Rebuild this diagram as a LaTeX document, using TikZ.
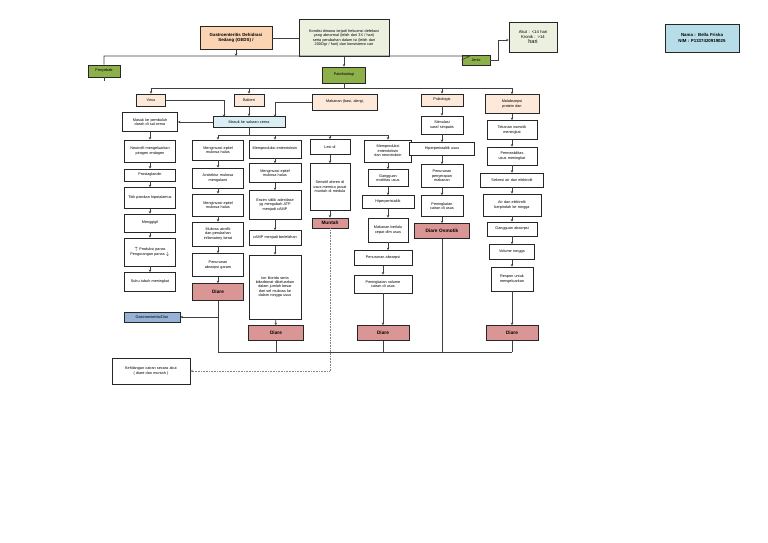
\documentclass[tikz,border=0pt]{standalone}
\usepackage{fontspec}
\setmainfont{Liberation Sans}
\usetikzlibrary{arrows.meta}
\definecolor{corg}{HTML}{FDE9D9}
\definecolor{ctit}{HTML}{FBD4B4}
\definecolor{cgrn}{HTML}{EBF1DE}
\definecolor{cdg}{HTML}{8DB04A}
\definecolor{cred}{HTML}{D99694}
\definecolor{clb}{HTML}{DAEEF3}
\definecolor{cnm}{HTML}{B7DEE8}
\definecolor{cgd}{HTML}{95B3D7}
\begin{document}
\lefthyphenmin=62 \righthyphenmin=62
\begin{tikzpicture}[x=1bp,y=-1bp,
 box/.style={draw=black!85,line width=0.8pt,fill=white,align=center,inner sep=0.5pt,font=\fontsize{3.8}{4.4}\selectfont},
 org/.style={fill=corg},
 grn/.style={fill=cgrn},
 dg/.style={fill=cdg},
 red/.style={fill=cred,font=\fontsize{4.8}{5}\selectfont\bfseries},
 lb/.style={fill=clb},
 arr/.style={draw=black!75,line width=0.6pt,-{Stealth[length=2.5bp,width=2.5bp]}},
 ln/.style={draw=black!75,line width=0.6pt}]
\useasboundingbox (0,0) rectangle (768,543);
\newcommand\B[7]{\node[box,#6,minimum width=#4bp,minimum height=#5bp,text width=0.86*#4bp] (#1) at (#2,#3) {#7};}
\B{t}{236}{38}{72}{23}{fill=ctit,font=\fontsize{4.4}{5.4}\selectfont\bfseries}{Gastroenteritis Dehidrasi Sedang (GEDS) /}
\B{k}{344}{38}{90}{37}{grn}{Kondisi dimana terjadi frekuensi defekasi yang abnormal (lebih dari 3X / hari) serta perubahan dalam isi (lebih dari 200Ogr / hari) dan konsistensi cair}
\B{pe}{104}{71}{32}{12}{dg}{Penyebab}
\B{pa}{344}{75}{43}{16}{dg}{Patofisiologi}
\B{je}{476}{60}{28}{10}{dg}{Jenis}
\B{ak}{533}{37}{48}{30}{grn,font=\fontsize{4.2}{5.2}\selectfont}{Akut : <14 hari\\Kronik : >14\\{\fontsize{5.5}{6.5}\selectfont hari}}
\B{nm}{702}{38}{74}{28}{fill=cnm,font=\fontsize{4.4}{6}\selectfont\bfseries}{Nama : Bella Friska\\NIM : P1337420919025}
\draw[ln] (t.east) -- (k.west);
\draw[ln] (pe.north) |- (470,56) -- (je.west);
\draw[arr] (t.south) -- (236,56);
\draw[arr] (k.south) -- (pa.north);
\draw[ln] (pe.south) -- ++(0,4);
\draw[arr] (je.east) -- (498,60) -- (498,40) -- (ak.west|-498,40);
% level 2
\B{vi}{151}{100}{29}{12}{org}{Virus}
\B{ba}{249}{100}{30}{12}{org}{Bakteri}
\B{mk}{345}{102}{65}{16}{org}{Makanan (basi, alergi,}
\B{ps}{442}{100}{42}{12}{org}{Psikologis}
\B{ma}{512}{104}{54}{19}{org}{Malabsorpsi\\protein dan}
\draw[ln] (pa.south) -- (344,88);
\draw[ln] (151,88) -- (512,88);
\foreach \n in {vi,ba,ps,ma} \draw[arr] (\n.north|-0,88) -- (\n.north);
\B{ms}{249}{122}{72}{11}{lb}{Masuk ke saluran cerna}
\B{pd}{150}{122}{55}{19}{}{Masuk ke pembuluh darah di sal.cerna}
\draw[arr] (vi.east) -| (224,117);
\draw[arr] (ba.south) -- (ms.north);
\draw[arr] (mk.west) -| (275,117);
\draw[arr] (ms.west) -- (pd.east);
% col1
\B{a1}{150}{151}{51}{22}{}{Neutrofil mengeluarkan pirogen endogen}
\B{a2}{150}{175}{51}{12}{}{Prostaglandin}
\B{a3}{150}{198}{51}{21}{}{Titik patokan hipotalamus}
\B{a4}{150}{223}{51}{18}{}{Menggigil}
\B{a5}{150}{252}{51}{28}{}{$\uparrow$ Produksi panas Pengurangan panas $\downarrow$}
\B{a6}{150}{282}{51}{19}{}{Suhu tubuh meningkat}
\draw[arr] (pd.south) -- (a1.north);
\foreach \a/\b in {a1/a2,a2/a3,a3/a4,a4/a5,a5/a6} \draw[arr] (\a) -- (\b);
% branching line
\draw[ln] (ms.south) -- (249,135);
\draw[ln] (218,135) -- (388,135);
% col2
\B{b1}{218}{150}{51}{20}{}{Menginvasi epitel mukosa halus}
\B{b2}{218}{178}{51}{20}{}{Arsitektur mukosa mengalami}
\B{b3}{218}{205}{51}{22}{}{Menginvasi epitel mukosa halus}
\B{b4}{218}{234}{51}{24}{}{Mukosa atrofik dan perubahan inflamatory berat}
\B{b5}{218}{265}{51}{23}{}{Penurunan absorpsi garam}
\B{b6}{218}{292}{51}{17}{red}{Diare}
\foreach \a/\b in {b1/b2,b2/b3,b3/b4,b4/b5,b5/b6} \draw[arr] (\a) -- (\b);
% col3
\B{c1}{275}{149}{52}{18}{}{Memproduksi enterotoksin}
\B{c2}{275}{173}{52}{19}{}{Menginvasi epitel mukosa halus}
\B{c3}{275}{205}{52}{29}{}{Enzim siklik adenilase yg mengubah ATP menjadi cAMP}
\B{c4}{275}{238}{52}{15}{}{cAMP menjadi berlebihan}
\B{c5}{275}{287}{52}{64}{}{Ion klorida serta bikarbonat dikeluarkan dalam jumlah besar dari sel mukosa ke dalam rongga usus}
\B{c6}{276}{333}{55}{15}{red}{Diare}
\foreach \a/\b in {c1/c2,c2/c3,c3/c4,c4/c5,c5/c6} \draw[arr] (\a) -- (\b);
% col4
\B{d1}{330}{147}{40}{15}{}{Lesi di}
\B{d2}{330}{187}{40}{47}{}{Sensitif aferen di usus memicu pusat muntah di medula}
\B{d3}{330}{223}{36}{10}{red}{Muntah}
\foreach \a/\b in {d1/d2,d2/d3} \draw[arr] (\a) -- (\b);
% col5
\B{e1}{388}{151}{47}{22}{}{Memproduksi enterotoksin dan neurotoksin}
\B{e2}{388}{178}{40}{17}{}{Gangguan motilitas usus}
\B{e3}{388}{202}{52}{13}{}{Hiperperistaltik}
\B{e4}{388}{230}{40}{24}{}{Makanan berlalu cepat dlm usus}
\B{e5}{383}{258}{58}{15}{}{Penurunan absorpsi}
\B{e6}{383}{284}{58}{18}{}{Peningkatan volume cairan di usus}
\B{e7}{383}{333}{52}{15}{red}{Diare}
\foreach \a/\b in {e1/e2,e2/e3,e3/e4} \draw[arr] (\a) -- (\b);
\draw[arr] (e4.south) -- (e4.south|-e5.north);
\foreach \a/\b in {e5/e6,e6/e7} \draw[arr] (\a) -- (\b);
\foreach \n in {b1,c1,d1,e1} \draw[arr] (\n.north|-0,135) -- (\n.north);
% psikologis
\B{f1}{442}{125}{42}{18}{}{Stimulasi saraf simpatis}
\B{f2}{442}{149}{65}{13}{}{Hiperperistaltik usus}
\B{f3}{442}{176}{42}{23}{}{Penurunan penyerapan makanan}
\B{f4}{442}{206}{42}{21}{}{Peningkatan cairan di usus}
\B{f5}{442}{231}{55}{15}{red}{Diare Osmotik}
\draw[arr] (ps) -- (f1);
\foreach \a/\b in {f1/f2,f2/f3,f3/f4,f4/f5} \draw[arr] (\a) -- (\b);
% malabsorpsi
\B{g1}{512}{130}{50}{19}{}{Tekanan osmotik meningkat}
\B{g2}{512}{156}{50}{18}{}{Permeabilitas usus meningkat}
\B{g3}{512}{180}{63}{14}{}{Sekresi air dan elektrolit}
\B{g4}{512}{205}{58}{22}{}{Air dan elektrolit berpindah ke rongga}
\B{g5}{512}{229}{50}{14}{}{Gangguan absorpsi}
\B{g6}{512}{252}{45}{15}{}{Volume rongga}
\B{g7}{512}{279}{42}{24}{}{Respon untuk mengeluarkan}
\B{g8}{512}{333}{52}{15}{red}{Diare}
\draw[arr] (ma) -- (g1);
\foreach \a/\b in {g1/g2,g2/g3,g3/g4,g4/g5,g5/g6,g6/g7,g7/g8} \draw[arr] (\a) -- (\b);
% bottom
\B{gd}{152}{317}{56}{10}{fill=cgd}{Gastroenteritis/Diar}
\B{kh}{151}{371}{78}{26}{}{Kehilangan cairan secara akut\\( diare dan muntah )}
\draw[ln] (b6.south) -- (218,352) -- (512,352);
\foreach \n in {c6,e7,f5,g8} \draw[ln] (\n.south) -- (\n.south|-0,352);
\draw[arr] (218,317) -- (gd.east);
\draw[arr,densely dotted,draw=black!50] (d3.south) -- (330,371) -- (kh.east);
\end{tikzpicture}
\end{document}
